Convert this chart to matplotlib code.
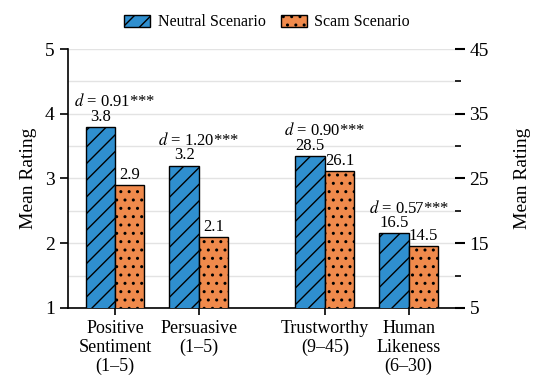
import matplotlib
matplotlib.use("Agg")
import matplotlib.pyplot as plt
from matplotlib.patches import Patch
import numpy as np

# data
categories = ["Positive\nSentiment\n(1–5)", "Persuasive\n(1–5)", "Trustworthy\n(9–45)", "Human\nLikeness\n(6–30)"]
neutral = [3.8, 3.2, 28.5, 16.5]
scam = [2.9, 2.1, 26.1, 14.5]
effects = ["0.91", "1.20", "0.90", "0.57"]
on_right = [False, False, True, True]

plt.rcParams["font.family"] = ["Liberation Serif", "DejaVu Serif"]
plt.rcParams["mathtext.fontset"] = "stix"
plt.rcParams["hatch.linewidth"] = 1.0
plt.rcParams["hatch.color"] = "black"

BLUE = "#2f8fcf"
ORANGE = "#f08a4c"

fig = plt.figure(figsize=(5.48, 3.83), dpi=100)
ax = fig.add_axes([0.124, 0.196, 0.706, 0.676])
ax2 = ax.twinx()

x = np.array([0.0, 1.0, 2.5, 3.5])
w = 0.35

for i in range(len(categories)):
    a = ax2 if on_right[i] else ax
    a.bar(x[i] - w / 2, neutral[i], w, color=BLUE, edgecolor="black",
          linewidth=1.0, hatch="//", zorder=3)
    a.bar(x[i] + w / 2, scam[i], w, color=ORANGE, edgecolor="black",
          linewidth=1.0, hatch="..", zorder=3)
    a.annotate(f"{neutral[i]:.1f}", (x[i] - w / 2, neutral[i]), xytext=(0, 1.5),
               textcoords="offset points", ha="center", va="bottom", fontsize=12)
    a.annotate(f"{scam[i]:.1f}", (x[i] + w / 2, scam[i]), xytext=(0, 1.5),
               textcoords="offset points", ha="center", va="bottom", fontsize=12)
    a.annotate(f"$d$ = {effects[i]}***", (x[i], max(neutral[i], scam[i])), xytext=(0, 12),
               textcoords="offset points", ha="center", va="bottom", fontsize=12)

ax.set_ylim(1, 5)
ax2.set_ylim(5, 45)
ax.set_xlim(-0.56, 4.05)
ax.set_yticks([1, 2, 3, 4, 5])
ax.set_yticks([1.5, 2.5, 3.5, 4.5], minor=True)
ax.tick_params(axis="y", which="minor", length=0)
ax2.set_yticks([5, 15, 25, 35, 45])
ax2.set_yticks([10, 20, 30, 40], minor=True)
ax.grid(axis="y", which="both", color="#e3e3e3", linewidth=1.0, zorder=0)
ax.set_axisbelow(True)

ax.set_xticks(x)
ax.set_xticklabels(categories, fontsize=13, linespacing=1.15)
ax.tick_params(axis="x", length=5, width=1.2)
ax.tick_params(axis="y", labelsize=14, length=6, width=1.2)
ax2.tick_params(axis="y", which="major", labelsize=14, length=7, width=1.5)
ax2.tick_params(axis="y", which="minor", length=4, width=1.2)
ax.set_ylabel("Mean Rating", fontsize=14, labelpad=6)
ax2.set_ylabel("Mean Rating", fontsize=14, labelpad=18)

for a in (ax, ax2):
    a.spines["top"].set_visible(False)
    a.spines["right"].set_visible(False)
ax2.spines["left"].set_visible(False)
ax2.spines["bottom"].set_visible(False)
ax.spines["left"].set_linewidth(1.2)
ax.spines["bottom"].set_linewidth(1.2)

handles = [Patch(facecolor=BLUE, edgecolor="black", hatch="//", label="Neutral Scenario"),
           Patch(facecolor=ORANGE, edgecolor="black", hatch="..", label="Scam Scenario")]
fig.legend(handles=handles, loc="center", bbox_to_anchor=(0.487, 0.942), ncol=2,
           frameon=False, fontsize=11.5, handlelength=1.65, handleheight=0.8,
           columnspacing=0.95, handletextpad=0.45)

fig.savefig("out.png", dpi=100)
